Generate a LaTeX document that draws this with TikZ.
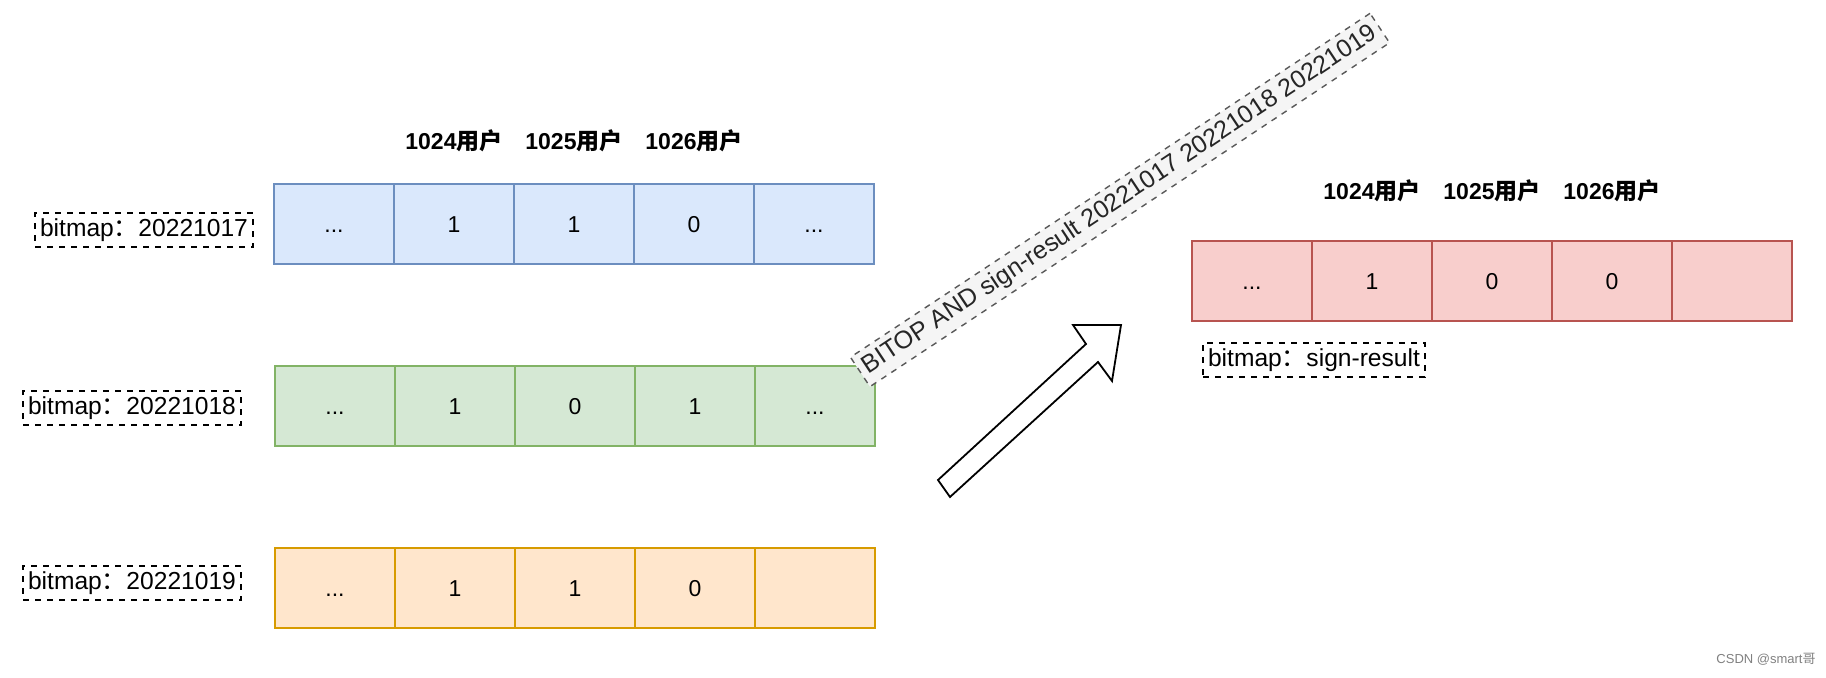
\documentclass[tikz,border=0pt]{standalone}
\usepackage{fontspec}
\usetikzlibrary{calc}
\setmainfont{Liberation Sans}
\newfontfamily\cjk{Noto Sans CJK SC}
\definecolor{bfill}{HTML}{DAE8FC}\definecolor{bdraw}{HTML}{6C8EBF}
\definecolor{gfill}{HTML}{D5E8D4}\definecolor{gdraw}{HTML}{82B366}
\definecolor{ofill}{HTML}{FFE6CC}\definecolor{odraw}{HTML}{D79B00}
\definecolor{rfill}{HTML}{F8CECC}\definecolor{rdraw}{HTML}{B85450}
\newcommand{\dts}{.\kern0pt.\kern0pt.}
\begin{document}
\begin{tikzpicture}[x=0.5pt,y=-0.5pt,font=\fontsize{11.5}{13}\selectfont,
  cellbox/.style={draw=#1draw,fill=#1fill,line width=0.8pt,minimum width=60pt,minimum height=40pt,inner sep=0pt,text height=8.5pt,text depth=0pt},
  lbl/.style={draw,dashed,line width=0.7pt,inner sep=2.5pt,minimum height=17pt,font=\fontsize{12.3}{14}\selectfont},
  hdr/.style={font=\fontsize{11.5}{13}\selectfont\bfseries}]
\useasboundingbox (0,0) rectangle (1826,678);
\foreach \r/\x/\y/\a/\b/\cc/\d/\e in {
  b/274/224/\dts/1/1/0/\dts,
  g/275/406/\dts/1/0/1/\dts,
  o/275/588/\dts/1/1/0/{},
  r/1192/281/\dts/1/0/0/{}}{
  \foreach \v [count=\i] in {\a,\b,\cc,\d,\e}{
    \node[cellbox=\r] (\r\i) at ({\x+60+120*(\i-1)},\y) {\v};
  }
}
\foreach \i/\t in {2/1024,3/1025,4/1026}{
  \node[hdr] (hb\i) at ($(b\i)+(0,-83)$) {\t{\cjk 用户}};
  \node[hdr] (hr\i) at ($(r\i)+(0,-90)$) {\t{\cjk 用户}};
}
\node[lbl] (l1) at (144,230) {bitmap{\cjk ：}20221017};
\node[lbl] (l2) at (132,408) {bitmap{\cjk ：}20221018};
\node[lbl] (l3) at (132,583) {bitmap{\cjk ：}20221019};
\node[lbl] (l4) at (1314,360) {bitmap{\cjk ：}sign-result};
\node[draw=gray!70!black,dashed,fill=gray!8,line width=0.7pt,rotate=33.5,inner sep=3pt,text=black!85,font=\fontsize{12.5}{14}\selectfont] (op) at (1120,200) {BITOP AND sign-result 20221017 20221018 20221019};
\draw[line width=0.9pt,fill=white] (938,480) -- (1086,344) -- (1073,325) -- (1121,325) -- (1112,381) -- (1098,362) -- (950,497) -- cycle;
\node[text=gray,font=\fontsize{6.5}{8}\selectfont] (wm) at (1766,659) {CSDN @smart{\cjk 哥}};
\end{tikzpicture}
\end{document}
